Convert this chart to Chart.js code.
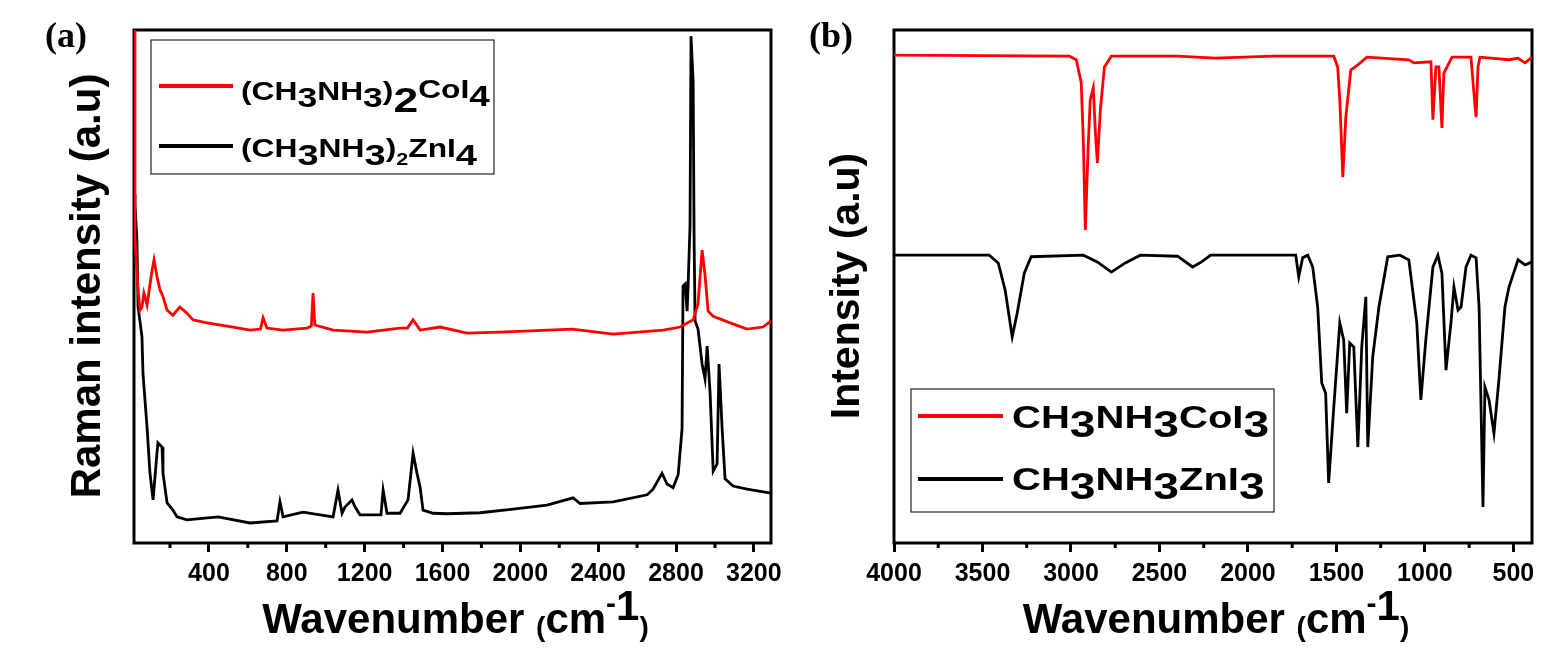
<!DOCTYPE html>
<html><head><meta charset="utf-8">
<script src="https://cdn.jsdelivr.net/npm/chart.js@4.4.0/dist/chart.umd.min.js"></script>
<style>
html,body{margin:0;padding:0;background:#fff;width:1546px;height:672px;overflow:hidden}
canvas{position:absolute;top:0}
</style></head><body>
<canvas id="ca" width="790" height="672" style="left:0"></canvas>
<canvas id="cb" width="756" height="672" style="left:790px"></canvas>
<script>
// ---------- Panel (a): Raman ----------
const ramanTicks = [400, 800, 1200, 1600, 2000, 2400, 2800, 3200];
const ramanMinor = [200, 600, 1000, 1400, 1800, 2200, 2600, 3000];
const ramanZnX = [15,20,30,36,56,61,82,97,113,133,138,159,164,185,215,236,287,447,611,750,765,781,883,971,1038,1063,1084,1099,1135,1151,1176,1284,1295,1315,1382,1423,1449,1469,1485,1500,1552,1624,1793,1963,2137,2271,2307,2477,2652,2682,2728,2754,2785,2811,2831,2836,2847,2857,2862,2872,2877,2888,2893,2898,2913,2934,2949,2960,2975,2991,3011,3021,3037,3052,3093,3165,3288];
const ramanZnY = [68,65.9,59.1,46.0,40.2,33.1,22.6,13.6,8.4,17.5,19.5,18.7,13.6,7.8,6.4,5.1,4.5,5.1,3.9,4.3,8.0,5.1,6.0,5.5,5.1,10.3,5.8,7.0,8.4,7.0,5.5,5.5,10.3,5.8,5.8,8.4,17.5,13.6,10.9,6.4,5.8,5.7,5.9,6.6,7.4,8.8,7.7,8.0,9.4,10.5,13.6,11.5,10.8,13.3,22.3,50.1,50.5,45.2,50.1,62.0,98.8,89.9,58.5,43.3,41.7,34.9,32.0,38.4,29.2,14.0,15.4,34.9,22.2,12.5,11.1,10.5,9.7];
const ramanCoX = [15,20,36,46,56,66,82,108,118,133,149,164,185,215,251,287,318,390,524,611,665,678,698,781,904,926,935,944,1038,1212,1382,1420,1449,1485,1588,1726,1896,2266,2477,2734,2821,2888,2913,2934,2949,2965,2991,3078,3165,3247,3288];
const ramanCoY = [102,59.1,49.3,45.4,46.0,48.7,46.4,53.2,55.2,51.9,49.3,48.0,45.4,44.4,46.0,44.8,43.5,42.9,42.1,41.5,41.7,43.9,41.9,41.5,41.9,42.3,48.7,42.5,41.5,41.1,41.9,41.9,43.5,41.5,42.1,40.9,41.1,41.7,40.7,41.5,42.1,43.5,46.6,57.1,52.2,45.2,44.2,42.9,41.7,42.1,43.3];

// ---------- Panel (b): FTIR ----------
const ftirTicks = [4000, 3500, 3000, 2500, 2000, 1500, 1000, 500];
const ftirMinor = [3750, 3250, 2750, 2250, 1750, 1250, 750];
const ftirCoX = [4000,3009,2970,2942,2930,2919,2902,2891,2874,2862,2851,2834,2811,2772,2398,2183,1861,1515,1493,1481,1464,1447,1419,1379,1328,1091,1062,966,955,938,921,904,893,847,740,723,711,700,689,525,474,434,395];
const ftirCoY = [95.1,94.9,94.2,89.7,78.0,61.0,78.0,86.4,88.7,80,74.1,84.4,92.8,94.9,94.9,94.5,94.9,94.9,92.8,86.4,71.3,83.0,92.2,93.2,94.7,94.2,93.6,93.8,82.5,92.8,92.8,80.9,91.6,94.7,94.7,87.7,83.0,92.8,94.7,94.2,94.5,93.6,94.7];
const ftirZnX = [4000,3462,3411,3372,3332,3304,3264,3225,2930,2851,2772,2693,2608,2398,2313,2262,2211,1730,1713,1691,1662,1634,1606,1583,1561,1544,1515,1481,1459,1442,1425,1402,1379,1357,1334,1323,1295,1260,1210,1142,1091,1046,1023,995,955,927,904,881,853,836,813,796,768,740,711,694,672,661,638,610,582,548,525,497,474,434,395];
const ftirZnY = [56.1,56.1,54.6,49.3,40.2,44.8,52.6,55.8,56.1,54.8,52.8,54.6,56.1,55.9,53.8,54.8,56.1,56.1,51.9,55.6,56.1,53.8,46.0,31.2,29.2,11.7,26.5,42.9,39.6,25.3,39.0,38.2,18.7,38.2,48.0,18.7,36.3,46.0,55.8,56.1,55.2,42.9,27.9,39.6,53.8,56.1,52.6,33.7,42.9,49.9,45.4,46.0,53.8,56.1,55.6,46.0,7.0,30.4,27.9,21.4,31.8,46.0,49.9,52.8,55.2,54.2,54.8];

const SANS = '"Liberation Sans", Arial, sans-serif';
const SERIF = '"Liberation Serif", "Times New Roman", serif';

function pts(xs, ys) { return xs.map((x, i) => ({ x: x, y: ys[i] })); }

function drawRich(ctx, segs, x, y, sx, align) {
  ctx.save();
  ctx.textBaseline = 'alphabetic';
  ctx.textAlign = 'left';
  ctx.fillStyle = '#000';
  let w = 0;
  segs.forEach(s => { ctx.font = 'bold ' + s[1] + 'px ' + SANS; w += ctx.measureText(s[0]).width; });
  let cx = align === 'center' ? -w / 2 : 0;
  ctx.translate(x, y);
  ctx.scale(sx, 1);
  segs.forEach(s => {
    ctx.font = 'bold ' + s[1] + 'px ' + SANS;
    ctx.fillText(s[0], cx, s[2]);
    cx += ctx.measureText(s[0]).width;
  });
  ctx.restore();
}

const xTitleSegs = [['Wavenumber ', 42, 0], ['(', 28, 3], ['cm', 42, 0], ['-', 30, -20], ['1', 42, -13], [')', 28, 3]];

function decor(o) {
  return {
    id: 'decor' + o.name,
    beforeDatasetsDraw(chart) {
      const ctx = chart.ctx, a = chart.chartArea, sx = chart.scales.x;
      ctx.save();
      ctx.strokeStyle = '#000';
      ctx.lineWidth = 3;
      ctx.strokeRect(a.left, a.top, a.right - a.left, a.bottom - a.top);
      o.minor.forEach(v => {
        const px = sx.getPixelForValue(v);
        ctx.beginPath(); ctx.moveTo(px, a.bottom); ctx.lineTo(px, a.bottom + 5); ctx.stroke();
      });
      ctx.restore();
    },
    afterDraw(chart) {
      const ctx = chart.ctx, a = chart.chartArea;
      const off = o.offset;
      ctx.save();
      ctx.translate(-off, 0);
      ctx.fillStyle = '#000';
      ctx.font = 'bold 36px ' + SERIF;
      ctx.textBaseline = 'alphabetic';
      ctx.textAlign = 'left';
      ctx.fillText(o.panel, o.panelX, 47);
      ctx.save();
      ctx.translate(o.yTitleX, 286);
      ctx.rotate(-Math.PI / 2);
      ctx.font = 'bold ' + o.yTitleSize + 'px ' + SANS;
      ctx.textAlign = 'center';
      ctx.fillText(o.yTitle, 0, 0);
      ctx.restore();
      drawRich(ctx, xTitleSegs, (a.left + a.right) / 2 + off + 3, 633, 1, 'center');
      const L = o.legend;
      ctx.fillStyle = '#fff';
      ctx.fillRect(L.box[0], L.box[1], L.box[2] - L.box[0], L.box[3] - L.box[1]);
      ctx.strokeStyle = '#222';
      ctx.lineWidth = 1.2;
      ctx.strokeRect(L.box[0], L.box[1], L.box[2] - L.box[0], L.box[3] - L.box[1]);
      L.rows.forEach(r => {
        ctx.strokeStyle = r.color;
        ctx.lineWidth = 4;
        ctx.beginPath(); ctx.moveTo(L.lineX[0], r.lineY); ctx.lineTo(L.lineX[1], r.lineY); ctx.stroke();
        drawRich(ctx, r.segs, L.textX, r.base, L.sx, 'left');
      });
      ctx.restore();
    }
  };
}

function xScale(min, max, ticks, reverse) {
  return {
    type: 'linear', min: min, max: max, reverse: reverse,
    afterBuildTicks: s => { s.ticks = ticks.map(v => ({ value: v })); },
    afterFit: s => { s.height = 100; },
    border: { display: false },
    grid: { drawOnChartArea: false, drawTicks: true, tickLength: 9, color: '#000', lineWidth: 3 },
    ticks: { color: '#000', font: { family: SANS, size: 25, weight: 'bold' }, padding: 7, maxRotation: 0, autoSkip: false,
             callback: v => String(v) }
  };
}

function ds(label, xs, ys, color) {
  return { label: label, data: pts(xs, ys), borderColor: color, backgroundColor: color, borderWidth: 2.8, pointRadius: 0, fill: false, tension: 0 };
}

new Chart(document.getElementById('ca'), {
  type: 'line',
  data: { datasets: [
    ds('(CH3NH3)2CoI4', ramanCoX, ramanCoY, '#ff0000'),
    ds('(CH3NH3)2ZnI4', ramanZnX, ramanZnY, '#000000')
  ] },
  options: {
    responsive: false, animation: false, devicePixelRatio: 1,
    layout: { padding: { left: 134, right: 19, top: 30, bottom: 29 } },
    plugins: { legend: { display: false }, tooltip: { enabled: false } },
    scales: { x: xScale(15, 3288, ramanTicks, false), y: { display: false, min: 0, max: 100 } }
  },
  plugins: [decor({
    name: 'a', offset: 0, minor: ramanMinor, panel: '(a)', panelX: 45,
    yTitle: 'Raman intensity (a.u)', yTitleSize: 42, yTitleX: 100,
    legend: {
      box: [151, 40, 494, 174], lineX: [159, 233], textX: 241, sx: 1.27,
      rows: [
        { color: '#ff0000', lineY: 86, base: 100, segs: [['(', 25, 0], ['CH', 25, 0], ['3', 28, 7], ['NH', 25, 0], ['3', 28, 7], [')', 25, 0], ['2', 35, 12], ['CoI', 25, -2], ['4', 29, 6]] },
        { color: '#000000', lineY: 146, base: 157, segs: [['(', 25, 0], ['CH', 25, 0], ['3', 30, 8], ['NH', 25, 0], ['3', 30, 8], [')', 25, 0], ['2', 17, 8], ['ZnI', 25, 0], ['4', 30, 8]] }
      ]
    }
  })]
});

new Chart(document.getElementById('cb'), {
  type: 'line',
  data: { datasets: [
    ds('CH3NH3CoI3', ftirCoX, ftirCoY, '#ff0000'),
    ds('CH3NH3ZnI3', ftirZnX, ftirZnY, '#000000')
  ] },
  options: {
    responsive: false, animation: false, devicePixelRatio: 1,
    layout: { padding: { left: 104, right: 14, top: 30, bottom: 29 } },
    plugins: { legend: { display: false }, tooltip: { enabled: false } },
    scales: { x: xScale(395, 4000, ftirTicks, true), y: { display: false, min: 0, max: 100 } }
  },
  plugins: [decor({
    name: 'b', offset: 790, minor: ftirMinor, panel: '(b)', panelX: 809,
    yTitle: 'Intensity (a.u)', yTitleSize: 41, yTitleX: 859,
    legend: {
      box: [911, 389, 1274, 512], lineX: [918, 1003], textX: 1012, sx: 1.25,
      rows: [
        { color: '#ff0000', lineY: 416, base: 428, segs: [['CH', 32, 0], ['3', 37, 9], ['NH', 32, 0], ['3', 37, 9], ['CoI', 32, 0], ['3', 37, 9]] },
        { color: '#000000', lineY: 479, base: 490, segs: [['CH', 32, 0], ['3', 37, 9], ['NH', 32, 0], ['3', 37, 9], ['ZnI', 32, 0], ['3', 37, 9]] }
      ]
    }
  })]
});
</script>
</body></html>
